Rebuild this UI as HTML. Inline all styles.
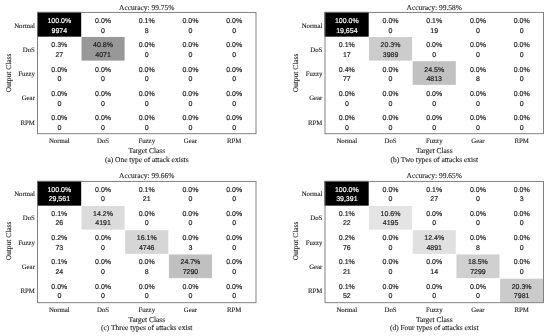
<!DOCTYPE html>
<html><head><meta charset="utf-8"><title>Confusion matrices</title>
<style>
html,body{margin:0;padding:0;background:#fff;}
body{width:550px;height:336px;position:relative;overflow:hidden;text-rendering:geometricPrecision;font-family:"Liberation Serif",serif;color:#222;}
.g{position:absolute;}
.box{position:absolute;border:1px solid #7a7a7a;box-sizing:border-box;}
.n,.s,.a{position:absolute;height:8px;line-height:8px;white-space:nowrap;text-align:center;}
.n{font-family:"Liberation Sans",sans-serif;font-size:7px;color:#1c1c1c;-webkit-text-stroke:0.18px #1c1c1c;}
.n.k{color:#fff;-webkit-text-stroke:0.18px #fff;}
.s{font-size:6.8px;-webkit-text-stroke:0.12px #222;}
.a{font-size:7.45px;-webkit-text-stroke:0.12px #222;}
.r{text-align:right;}
.rot{transform:rotate(-90deg);transform-origin:center center;}
</style></head><body>

<svg class="g" style="left:0;top:0;" width="550" height="336" viewBox="0 0 550 336">
<rect x="37.00" y="11.90" width="44.20" height="24.76" fill="rgb(0,0,0)"/>
<rect x="81.50" y="36.96" width="43.10" height="23.66" fill="rgb(152,152,152)"/>
<rect x="37.50" y="12.40" width="218.50" height="121.30" fill="none" stroke="#747474" stroke-width="0.9"/>
</svg>
<div class="n k" style="left:37.50px;width:43.70px;top:18px;">100.0%</div>
<div class="n k" style="left:37.50px;width:43.70px;top:28px;">9974</div>
<div class="n" style="left:81.20px;width:43.70px;top:18px;">0.0%</div>
<div class="n" style="left:81.20px;width:43.70px;top:28px;">0</div>
<div class="n" style="left:124.90px;width:43.70px;top:18px;">0.1%</div>
<div class="n" style="left:124.90px;width:43.70px;top:28px;">8</div>
<div class="n" style="left:168.60px;width:43.70px;top:18px;">0.0%</div>
<div class="n" style="left:168.60px;width:43.70px;top:28px;">0</div>
<div class="n" style="left:212.30px;width:43.70px;top:18px;">0.0%</div>
<div class="n" style="left:212.30px;width:43.70px;top:28px;">0</div>
<div class="n" style="left:37.50px;width:43.70px;top:42px;">0.3%</div>
<div class="n" style="left:37.50px;width:43.70px;top:52px;">27</div>
<div class="n" style="left:81.20px;width:43.70px;top:42px;">40.8%</div>
<div class="n" style="left:81.20px;width:43.70px;top:52px;">4071</div>
<div class="n" style="left:124.90px;width:43.70px;top:42px;">0.0%</div>
<div class="n" style="left:124.90px;width:43.70px;top:52px;">0</div>
<div class="n" style="left:168.60px;width:43.70px;top:42px;">0.0%</div>
<div class="n" style="left:168.60px;width:43.70px;top:52px;">0</div>
<div class="n" style="left:212.30px;width:43.70px;top:42px;">0.0%</div>
<div class="n" style="left:212.30px;width:43.70px;top:52px;">0</div>
<div class="n" style="left:37.50px;width:43.70px;top:67px;">0.0%</div>
<div class="n" style="left:37.50px;width:43.70px;top:76px;">0</div>
<div class="n" style="left:81.20px;width:43.70px;top:67px;">0.0%</div>
<div class="n" style="left:81.20px;width:43.70px;top:76px;">0</div>
<div class="n" style="left:124.90px;width:43.70px;top:67px;">0.0%</div>
<div class="n" style="left:124.90px;width:43.70px;top:76px;">0</div>
<div class="n" style="left:168.60px;width:43.70px;top:67px;">0.0%</div>
<div class="n" style="left:168.60px;width:43.70px;top:76px;">0</div>
<div class="n" style="left:212.30px;width:43.70px;top:67px;">0.0%</div>
<div class="n" style="left:212.30px;width:43.70px;top:76px;">0</div>
<div class="n" style="left:37.50px;width:43.70px;top:91px;">0.0%</div>
<div class="n" style="left:37.50px;width:43.70px;top:101px;">0</div>
<div class="n" style="left:81.20px;width:43.70px;top:91px;">0.0%</div>
<div class="n" style="left:81.20px;width:43.70px;top:101px;">0</div>
<div class="n" style="left:124.90px;width:43.70px;top:91px;">0.0%</div>
<div class="n" style="left:124.90px;width:43.70px;top:101px;">0</div>
<div class="n" style="left:168.60px;width:43.70px;top:91px;">0.0%</div>
<div class="n" style="left:168.60px;width:43.70px;top:101px;">0</div>
<div class="n" style="left:212.30px;width:43.70px;top:91px;">0.0%</div>
<div class="n" style="left:212.30px;width:43.70px;top:101px;">0</div>
<div class="n" style="left:37.50px;width:43.70px;top:115px;">0.0%</div>
<div class="n" style="left:37.50px;width:43.70px;top:125px;">0</div>
<div class="n" style="left:81.20px;width:43.70px;top:115px;">0.0%</div>
<div class="n" style="left:81.20px;width:43.70px;top:125px;">0</div>
<div class="n" style="left:124.90px;width:43.70px;top:115px;">0.0%</div>
<div class="n" style="left:124.90px;width:43.70px;top:125px;">0</div>
<div class="n" style="left:168.60px;width:43.70px;top:115px;">0.0%</div>
<div class="n" style="left:168.60px;width:43.70px;top:125px;">0</div>
<div class="n" style="left:212.30px;width:43.70px;top:115px;">0.0%</div>
<div class="n" style="left:212.30px;width:43.70px;top:125px;">0</div>
<div class="a" style="left:37.50px;width:218.50px;top:4px;">Accuracy: 99.75%</div>
<div class="s r" style="left:-5.10px;width:40.00px;top:23px;">Normal</div>
<div class="s" style="left:37.50px;width:43.70px;top:138px;">Normal</div>
<div class="s r" style="left:-5.10px;width:40.00px;top:47px;">DoS</div>
<div class="s" style="left:81.20px;width:43.70px;top:138px;">DoS</div>
<div class="s r" style="left:-5.10px;width:40.00px;top:71px;">Fuzzy</div>
<div class="s" style="left:124.90px;width:43.70px;top:138px;">Fuzzy</div>
<div class="s r" style="left:-5.10px;width:40.00px;top:95px;">Gear</div>
<div class="s" style="left:168.60px;width:43.70px;top:138px;">Gear</div>
<div class="s r" style="left:-5.10px;width:40.00px;top:120px;">RPM</div>
<div class="s" style="left:212.30px;width:43.70px;top:138px;">RPM</div>
<div class="a" style="left:37.50px;width:218.50px;top:147px;">Target Class</div>
<div class="a" style="left:-2.50px;width:298.50px;top:156px;">(a) One type of attack exists</div>
<div class="a rot" style="left:-31.50px;width:80px;top:69px;">Output Class</div>
<svg class="g" style="left:0;top:0;" width="550" height="336" viewBox="0 0 550 336">
<rect x="324.50" y="11.90" width="44.20" height="24.76" fill="rgb(0,0,0)"/>
<rect x="369.00" y="36.96" width="43.10" height="23.66" fill="rgb(204,204,204)"/>
<rect x="412.70" y="61.22" width="43.10" height="23.66" fill="rgb(193,193,193)"/>
<rect x="325.00" y="12.40" width="218.50" height="121.30" fill="none" stroke="#747474" stroke-width="0.9"/>
</svg>
<div class="n k" style="left:325.00px;width:43.70px;top:18px;">100.0%</div>
<div class="n k" style="left:325.00px;width:43.70px;top:28px;">19,654</div>
<div class="n" style="left:368.70px;width:43.70px;top:18px;">0.0%</div>
<div class="n" style="left:368.70px;width:43.70px;top:28px;">0</div>
<div class="n" style="left:412.40px;width:43.70px;top:18px;">0.1%</div>
<div class="n" style="left:412.40px;width:43.70px;top:28px;">19</div>
<div class="n" style="left:456.10px;width:43.70px;top:18px;">0.0%</div>
<div class="n" style="left:456.10px;width:43.70px;top:28px;">0</div>
<div class="n" style="left:499.80px;width:43.70px;top:18px;">0.0%</div>
<div class="n" style="left:499.80px;width:43.70px;top:28px;">0</div>
<div class="n" style="left:325.00px;width:43.70px;top:42px;">0.1%</div>
<div class="n" style="left:325.00px;width:43.70px;top:52px;">17</div>
<div class="n" style="left:368.70px;width:43.70px;top:42px;">20.3%</div>
<div class="n" style="left:368.70px;width:43.70px;top:52px;">3989</div>
<div class="n" style="left:412.40px;width:43.70px;top:42px;">0.0%</div>
<div class="n" style="left:412.40px;width:43.70px;top:52px;">0</div>
<div class="n" style="left:456.10px;width:43.70px;top:42px;">0.0%</div>
<div class="n" style="left:456.10px;width:43.70px;top:52px;">0</div>
<div class="n" style="left:499.80px;width:43.70px;top:42px;">0.0%</div>
<div class="n" style="left:499.80px;width:43.70px;top:52px;">0</div>
<div class="n" style="left:325.00px;width:43.70px;top:67px;">0.4%</div>
<div class="n" style="left:325.00px;width:43.70px;top:76px;">77</div>
<div class="n" style="left:368.70px;width:43.70px;top:67px;">0.0%</div>
<div class="n" style="left:368.70px;width:43.70px;top:76px;">0</div>
<div class="n" style="left:412.40px;width:43.70px;top:67px;">24.5%</div>
<div class="n" style="left:412.40px;width:43.70px;top:76px;">4813</div>
<div class="n" style="left:456.10px;width:43.70px;top:67px;">0.0%</div>
<div class="n" style="left:456.10px;width:43.70px;top:76px;">8</div>
<div class="n" style="left:499.80px;width:43.70px;top:67px;">0.0%</div>
<div class="n" style="left:499.80px;width:43.70px;top:76px;">0</div>
<div class="n" style="left:325.00px;width:43.70px;top:91px;">0.0%</div>
<div class="n" style="left:325.00px;width:43.70px;top:101px;">0</div>
<div class="n" style="left:368.70px;width:43.70px;top:91px;">0.0%</div>
<div class="n" style="left:368.70px;width:43.70px;top:101px;">0</div>
<div class="n" style="left:412.40px;width:43.70px;top:91px;">0.0%</div>
<div class="n" style="left:412.40px;width:43.70px;top:101px;">0</div>
<div class="n" style="left:456.10px;width:43.70px;top:91px;">0.0%</div>
<div class="n" style="left:456.10px;width:43.70px;top:101px;">0</div>
<div class="n" style="left:499.80px;width:43.70px;top:91px;">0.0%</div>
<div class="n" style="left:499.80px;width:43.70px;top:101px;">0</div>
<div class="n" style="left:325.00px;width:43.70px;top:115px;">0.0%</div>
<div class="n" style="left:325.00px;width:43.70px;top:125px;">0</div>
<div class="n" style="left:368.70px;width:43.70px;top:115px;">0.0%</div>
<div class="n" style="left:368.70px;width:43.70px;top:125px;">0</div>
<div class="n" style="left:412.40px;width:43.70px;top:115px;">0.0%</div>
<div class="n" style="left:412.40px;width:43.70px;top:125px;">0</div>
<div class="n" style="left:456.10px;width:43.70px;top:115px;">0.0%</div>
<div class="n" style="left:456.10px;width:43.70px;top:125px;">0</div>
<div class="n" style="left:499.80px;width:43.70px;top:115px;">0.0%</div>
<div class="n" style="left:499.80px;width:43.70px;top:125px;">0</div>
<div class="a" style="left:325.00px;width:218.50px;top:4px;">Accuracy: 99.58%</div>
<div class="s r" style="left:282.40px;width:40.00px;top:23px;">Normal</div>
<div class="s" style="left:325.00px;width:43.70px;top:138px;">Normal</div>
<div class="s r" style="left:282.40px;width:40.00px;top:47px;">DoS</div>
<div class="s" style="left:368.70px;width:43.70px;top:138px;">DoS</div>
<div class="s r" style="left:282.40px;width:40.00px;top:71px;">Fuzzy</div>
<div class="s" style="left:412.40px;width:43.70px;top:138px;">Fuzzy</div>
<div class="s r" style="left:282.40px;width:40.00px;top:95px;">Gear</div>
<div class="s" style="left:456.10px;width:43.70px;top:138px;">Gear</div>
<div class="s r" style="left:282.40px;width:40.00px;top:120px;">RPM</div>
<div class="s" style="left:499.80px;width:43.70px;top:138px;">RPM</div>
<div class="a" style="left:325.00px;width:218.50px;top:147px;">Target Class</div>
<div class="a" style="left:285.00px;width:298.50px;top:156px;">(b) Two types of attacks exist</div>
<div class="a rot" style="left:256.00px;width:80px;top:69px;">Output Class</div>
<svg class="g" style="left:0;top:0;" width="550" height="336" viewBox="0 0 550 336">
<rect x="37.00" y="180.90" width="44.20" height="24.76" fill="rgb(0,0,0)"/>
<rect x="81.50" y="205.96" width="43.10" height="23.66" fill="rgb(219,219,219)"/>
<rect x="125.20" y="230.22" width="43.10" height="23.66" fill="rgb(214,214,214)"/>
<rect x="168.90" y="254.48" width="43.10" height="23.66" fill="rgb(192,192,192)"/>
<rect x="37.50" y="181.40" width="218.50" height="121.30" fill="none" stroke="#747474" stroke-width="0.9"/>
</svg>
<div class="n k" style="left:37.50px;width:43.70px;top:187px;">100.0%</div>
<div class="n k" style="left:37.50px;width:43.70px;top:196px;">29,561</div>
<div class="n" style="left:81.20px;width:43.70px;top:187px;">0.0%</div>
<div class="n" style="left:81.20px;width:43.70px;top:196px;">0</div>
<div class="n" style="left:124.90px;width:43.70px;top:187px;">0.1%</div>
<div class="n" style="left:124.90px;width:43.70px;top:196px;">21</div>
<div class="n" style="left:168.60px;width:43.70px;top:187px;">0.0%</div>
<div class="n" style="left:168.60px;width:43.70px;top:196px;">0</div>
<div class="n" style="left:212.30px;width:43.70px;top:187px;">0.0%</div>
<div class="n" style="left:212.30px;width:43.70px;top:196px;">0</div>
<div class="n" style="left:37.50px;width:43.70px;top:211px;">0.1%</div>
<div class="n" style="left:37.50px;width:43.70px;top:220px;">26</div>
<div class="n" style="left:81.20px;width:43.70px;top:211px;">14.2%</div>
<div class="n" style="left:81.20px;width:43.70px;top:220px;">4191</div>
<div class="n" style="left:124.90px;width:43.70px;top:211px;">0.0%</div>
<div class="n" style="left:124.90px;width:43.70px;top:220px;">0</div>
<div class="n" style="left:168.60px;width:43.70px;top:211px;">0.0%</div>
<div class="n" style="left:168.60px;width:43.70px;top:220px;">0</div>
<div class="n" style="left:212.30px;width:43.70px;top:211px;">0.0%</div>
<div class="n" style="left:212.30px;width:43.70px;top:220px;">0</div>
<div class="n" style="left:37.50px;width:43.70px;top:235px;">0.2%</div>
<div class="n" style="left:37.50px;width:43.70px;top:245px;">73</div>
<div class="n" style="left:81.20px;width:43.70px;top:235px;">0.0%</div>
<div class="n" style="left:81.20px;width:43.70px;top:245px;">0</div>
<div class="n" style="left:124.90px;width:43.70px;top:235px;">16.1%</div>
<div class="n" style="left:124.90px;width:43.70px;top:245px;">4746</div>
<div class="n" style="left:168.60px;width:43.70px;top:235px;">0.0%</div>
<div class="n" style="left:168.60px;width:43.70px;top:245px;">3</div>
<div class="n" style="left:212.30px;width:43.70px;top:235px;">0.0%</div>
<div class="n" style="left:212.30px;width:43.70px;top:245px;">0</div>
<div class="n" style="left:37.50px;width:43.70px;top:259px;">0.1%</div>
<div class="n" style="left:37.50px;width:43.70px;top:269px;">24</div>
<div class="n" style="left:81.20px;width:43.70px;top:259px;">0.0%</div>
<div class="n" style="left:81.20px;width:43.70px;top:269px;">0</div>
<div class="n" style="left:124.90px;width:43.70px;top:259px;">0.0%</div>
<div class="n" style="left:124.90px;width:43.70px;top:269px;">8</div>
<div class="n" style="left:168.60px;width:43.70px;top:259px;">24.7%</div>
<div class="n" style="left:168.60px;width:43.70px;top:269px;">7290</div>
<div class="n" style="left:212.30px;width:43.70px;top:259px;">0.0%</div>
<div class="n" style="left:212.30px;width:43.70px;top:269px;">0</div>
<div class="n" style="left:37.50px;width:43.70px;top:284px;">0.0%</div>
<div class="n" style="left:37.50px;width:43.70px;top:293px;">0</div>
<div class="n" style="left:81.20px;width:43.70px;top:284px;">0.0%</div>
<div class="n" style="left:81.20px;width:43.70px;top:293px;">0</div>
<div class="n" style="left:124.90px;width:43.70px;top:284px;">0.0%</div>
<div class="n" style="left:124.90px;width:43.70px;top:293px;">0</div>
<div class="n" style="left:168.60px;width:43.70px;top:284px;">0.0%</div>
<div class="n" style="left:168.60px;width:43.70px;top:293px;">0</div>
<div class="n" style="left:212.30px;width:43.70px;top:284px;">0.0%</div>
<div class="n" style="left:212.30px;width:43.70px;top:293px;">0</div>
<div class="a" style="left:37.50px;width:218.50px;top:172px;">Accuracy: 99.66%</div>
<div class="s r" style="left:-5.10px;width:40.00px;top:191px;">Normal</div>
<div class="s" style="left:37.50px;width:43.70px;top:307px;">Normal</div>
<div class="s r" style="left:-5.10px;width:40.00px;top:215px;">DoS</div>
<div class="s" style="left:81.20px;width:43.70px;top:307px;">DoS</div>
<div class="s r" style="left:-5.10px;width:40.00px;top:240px;">Fuzzy</div>
<div class="s" style="left:124.90px;width:43.70px;top:307px;">Fuzzy</div>
<div class="s r" style="left:-5.10px;width:40.00px;top:264px;">Gear</div>
<div class="s" style="left:168.60px;width:43.70px;top:307px;">Gear</div>
<div class="s r" style="left:-5.10px;width:40.00px;top:288px;">RPM</div>
<div class="s" style="left:212.30px;width:43.70px;top:307px;">RPM</div>
<div class="a" style="left:37.50px;width:218.50px;top:316px;">Target Class</div>
<div class="a" style="left:-2.50px;width:298.50px;top:324px;">(c) Three types of attacks exist</div>
<div class="a rot" style="left:-31.50px;width:80px;top:237px;">Output Class</div>
<svg class="g" style="left:0;top:0;" width="550" height="336" viewBox="0 0 550 336">
<rect x="324.50" y="180.90" width="44.20" height="24.76" fill="rgb(0,0,0)"/>
<rect x="369.00" y="205.96" width="43.10" height="23.66" fill="rgb(228,228,228)"/>
<rect x="412.70" y="230.22" width="43.10" height="23.66" fill="rgb(224,224,224)"/>
<rect x="456.40" y="254.48" width="43.10" height="23.66" fill="rgb(208,208,208)"/>
<rect x="500.10" y="278.74" width="43.10" height="23.66" fill="rgb(203,203,203)"/>
<rect x="325.00" y="181.40" width="218.50" height="121.30" fill="none" stroke="#747474" stroke-width="0.9"/>
</svg>
<div class="n k" style="left:325.00px;width:43.70px;top:187px;">100.0%</div>
<div class="n k" style="left:325.00px;width:43.70px;top:196px;">39,391</div>
<div class="n" style="left:368.70px;width:43.70px;top:187px;">0.0%</div>
<div class="n" style="left:368.70px;width:43.70px;top:196px;">0</div>
<div class="n" style="left:412.40px;width:43.70px;top:187px;">0.1%</div>
<div class="n" style="left:412.40px;width:43.70px;top:196px;">27</div>
<div class="n" style="left:456.10px;width:43.70px;top:187px;">0.0%</div>
<div class="n" style="left:456.10px;width:43.70px;top:196px;">0</div>
<div class="n" style="left:499.80px;width:43.70px;top:187px;">0.0%</div>
<div class="n" style="left:499.80px;width:43.70px;top:196px;">3</div>
<div class="n" style="left:325.00px;width:43.70px;top:211px;">0.1%</div>
<div class="n" style="left:325.00px;width:43.70px;top:220px;">22</div>
<div class="n" style="left:368.70px;width:43.70px;top:211px;">10.6%</div>
<div class="n" style="left:368.70px;width:43.70px;top:220px;">4195</div>
<div class="n" style="left:412.40px;width:43.70px;top:211px;">0.0%</div>
<div class="n" style="left:412.40px;width:43.70px;top:220px;">0</div>
<div class="n" style="left:456.10px;width:43.70px;top:211px;">0.0%</div>
<div class="n" style="left:456.10px;width:43.70px;top:220px;">0</div>
<div class="n" style="left:499.80px;width:43.70px;top:211px;">0.0%</div>
<div class="n" style="left:499.80px;width:43.70px;top:220px;">0</div>
<div class="n" style="left:325.00px;width:43.70px;top:235px;">0.2%</div>
<div class="n" style="left:325.00px;width:43.70px;top:245px;">76</div>
<div class="n" style="left:368.70px;width:43.70px;top:235px;">0.0%</div>
<div class="n" style="left:368.70px;width:43.70px;top:245px;">0</div>
<div class="n" style="left:412.40px;width:43.70px;top:235px;">12.4%</div>
<div class="n" style="left:412.40px;width:43.70px;top:245px;">4891</div>
<div class="n" style="left:456.10px;width:43.70px;top:235px;">0.0%</div>
<div class="n" style="left:456.10px;width:43.70px;top:245px;">8</div>
<div class="n" style="left:499.80px;width:43.70px;top:235px;">0.0%</div>
<div class="n" style="left:499.80px;width:43.70px;top:245px;">0</div>
<div class="n" style="left:325.00px;width:43.70px;top:259px;">0.1%</div>
<div class="n" style="left:325.00px;width:43.70px;top:269px;">21</div>
<div class="n" style="left:368.70px;width:43.70px;top:259px;">0.0%</div>
<div class="n" style="left:368.70px;width:43.70px;top:269px;">0</div>
<div class="n" style="left:412.40px;width:43.70px;top:259px;">0.0%</div>
<div class="n" style="left:412.40px;width:43.70px;top:269px;">14</div>
<div class="n" style="left:456.10px;width:43.70px;top:259px;">18.5%</div>
<div class="n" style="left:456.10px;width:43.70px;top:269px;">7299</div>
<div class="n" style="left:499.80px;width:43.70px;top:259px;">0.0%</div>
<div class="n" style="left:499.80px;width:43.70px;top:269px;">0</div>
<div class="n" style="left:325.00px;width:43.70px;top:284px;">0.1%</div>
<div class="n" style="left:325.00px;width:43.70px;top:293px;">52</div>
<div class="n" style="left:368.70px;width:43.70px;top:284px;">0.0%</div>
<div class="n" style="left:368.70px;width:43.70px;top:293px;">0</div>
<div class="n" style="left:412.40px;width:43.70px;top:284px;">0.0%</div>
<div class="n" style="left:412.40px;width:43.70px;top:293px;">0</div>
<div class="n" style="left:456.10px;width:43.70px;top:284px;">0.0%</div>
<div class="n" style="left:456.10px;width:43.70px;top:293px;">0</div>
<div class="n" style="left:499.80px;width:43.70px;top:284px;">20.3%</div>
<div class="n" style="left:499.80px;width:43.70px;top:293px;">7981</div>
<div class="a" style="left:325.00px;width:218.50px;top:172px;">Accuracy: 99.65%</div>
<div class="s r" style="left:282.40px;width:40.00px;top:191px;">Normal</div>
<div class="s" style="left:325.00px;width:43.70px;top:307px;">Normal</div>
<div class="s r" style="left:282.40px;width:40.00px;top:215px;">DoS</div>
<div class="s" style="left:368.70px;width:43.70px;top:307px;">DoS</div>
<div class="s r" style="left:282.40px;width:40.00px;top:240px;">Fuzzy</div>
<div class="s" style="left:412.40px;width:43.70px;top:307px;">Fuzzy</div>
<div class="s r" style="left:282.40px;width:40.00px;top:264px;">Gear</div>
<div class="s" style="left:456.10px;width:43.70px;top:307px;">Gear</div>
<div class="s r" style="left:282.40px;width:40.00px;top:288px;">RPM</div>
<div class="s" style="left:499.80px;width:43.70px;top:307px;">RPM</div>
<div class="a" style="left:325.00px;width:218.50px;top:316px;">Target Class</div>
<div class="a" style="left:285.00px;width:298.50px;top:324px;">(d) Four types of attacks exist</div>
<div class="a rot" style="left:256.00px;width:80px;top:237px;">Output Class</div>
</body></html>
